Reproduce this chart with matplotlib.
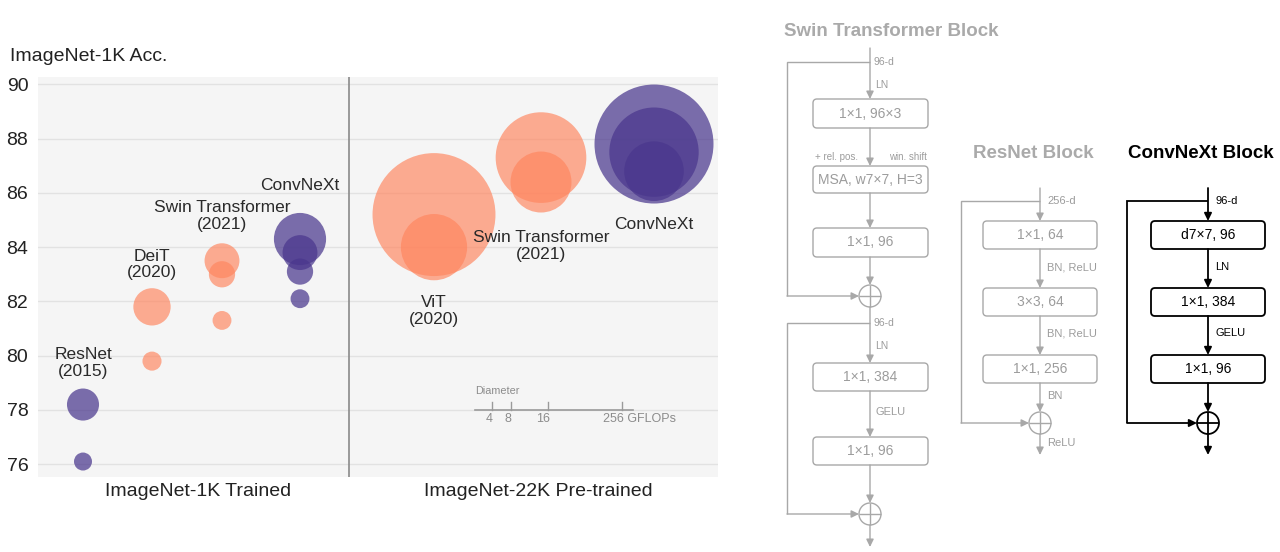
import matplotlib.pyplot as plt
from matplotlib.patches import FancyBboxPatch, Circle

plt.rcParams['font.family'] = ['Liberation Sans', 'DejaVu Sans']

# ImageNet-1K accuracy (%) and GFLOPs of each model variant
resnet_acc = [76.1, 78.2]
resnet_gflops = [4.1, 13.0]
deit_acc = [79.8, 81.8]
deit_gflops = [4.6, 17.6]
swin1k_acc = [81.3, 83.0, 83.5]
swin1k_gflops = [4.5, 8.7, 15.4]
convnext1k_acc = [82.1, 83.1, 83.8, 84.3]
convnext1k_gflops = [4.5, 8.7, 15.4, 34.4]
vit22k_acc = [84.0, 85.2]
vit22k_gflops = [55.5, 191.1]
swin22k_acc = [86.4, 87.3]
swin22k_gflops = [47.0, 103.9]
convnext22k_acc = [86.8, 87.5, 87.8]
convnext22k_gflops = [45.1, 101.0, 179.0]

# column position of each family on the x axis
column_x = [45, 114, 184, 262, 396, 503, 616]
divider_x = 311
yticks = [76, 78, 80, 82, 84, 86, 88, 90]

legend_ticks = ['4', '8', '16', '256']
legend_tick_x = [454, 473, 510, 584]

orange = (1.0, 0.52, 0.37)
purple = (0.29, 0.215, 0.553)
SIZE = 41  # points^2 per GFLOP -> bubble area ~ FLOPs

fig = plt.figure(figsize=(12.8, 5.52), dpi=100)
ax = fig.add_axes([38 / 1280, 75 / 552, 680 / 1280, 400 / 552])
ax.set_facecolor('#f5f5f5')
for s in ax.spines.values():
    s.set_visible(False)
ax.set_xlim(0, 680)
ax.set_ylim(75.53, 90.27)
ax.set_yticks(yticks)
ax.set_xticks([])
ax.tick_params(axis='y', length=0, pad=7, labelsize=14, labelcolor='#222222')
ax.grid(axis='y', color='#e2e2e2', lw=1)
ax.set_axisbelow(True)

groups = [
    (resnet_acc, resnet_gflops, purple, 0.72),
    (deit_acc, deit_gflops, orange, 0.67),
    (swin1k_acc, swin1k_gflops, orange, 0.67),
    (convnext1k_acc, convnext1k_gflops, purple, 0.72),
    (vit22k_acc, vit22k_gflops, orange, 0.67),
    (swin22k_acc, swin22k_gflops, orange, 0.67),
    (convnext22k_acc, convnext22k_gflops, purple, 0.72),
]
for xpos, (acc, gf, col, a) in zip(column_x, groups):
    ax.scatter([xpos] * len(acc), acc, s=[g * SIZE for g in gf],
               color=col, alpha=a, edgecolors='none', zorder=3)

ax.axvline(divider_x, color='#8a8a8a', lw=1.2, zorder=2)

labels = [
    ('ResNet\n(2015)', 0, 79.74),
    ('DeiT\n(2020)', 1, 83.36),
    ('Swin Transformer\n(2021)', 2, 85.15),
    ('ConvNeXt', 3, 86.29),
    ('ViT\n(2020)', 4, 81.66),
    ('Swin Transformer\n(2021)', 5, 84.05),
    ('ConvNeXt', 6, 84.85),
]
for txt, i, y in labels:
    ax.text(column_x[i], y, txt, ha='center', va='center', fontsize=12.5,
            color='#2a2a2a', linespacing=1.15, zorder=4)

# diameter legend
ax.plot([437, 595], [78.0, 78.0], color='#9a9a9a', lw=1.2, zorder=2)
for t, tx in zip(legend_ticks, legend_tick_x):
    ax.plot([tx, tx], [78.0, 78.3], color='#9a9a9a', lw=1.0, zorder=2)
ax.text(437, 78.7, 'Diameter', fontsize=7.8, color='#8c8c8c', ha='left', va='center')
ax.text(legend_tick_x[0] - 3, 77.66, '4', fontsize=9, color='#8c8c8c', ha='center', va='center')
ax.text(legend_tick_x[1] - 3, 77.66, '8', fontsize=9, color='#8c8c8c', ha='center', va='center')
ax.text(legend_tick_x[2] - 5, 77.66, '16', fontsize=9, color='#8c8c8c', ha='center', va='center')
ax.text(565, 77.66, '256 GFLOPs', fontsize=9, color='#8c8c8c', ha='left', va='center')

xt = ax.get_xaxis_transform()
ax.text(160, -0.035, 'ImageNet-1K Trained', transform=xt, ha='center', va='center',
        fontsize=14, color='#222222')
ax.text(500, -0.035, 'ImageNet-22K Pre-trained', transform=xt, ha='center', va='center',
        fontsize=14, color='#222222')
fig.text(10 / 1280, 1 - 56.7 / 552, 'ImageNet-1K Acc.', ha='left', va='center',
         fontsize=14, color='#222222')

# ---- block diagrams (pixel coordinates) ----
d = fig.add_axes([0, 0, 1, 1])
d.set_xlim(0, 1280)
d.set_ylim(552, 0)
d.axis('off')

GRAY = '#a8a8a8'
GTXT = '#9c9c9c'


def line(pts, c, lw):
    d.plot([p[0] for p in pts], [p[1] for p in pts], color=c, lw=lw,
           solid_capstyle='butt', solid_joinstyle='miter')


def arrow(x0, y0, x1, y1, c, lw):
    d.annotate('', xy=(x1, y1), xytext=(x0, y0),
               arrowprops=dict(arrowstyle='-|>,head_length=0.45,head_width=0.22',
                               color=c, lw=lw, shrinkA=0, shrinkB=0,
                               mutation_scale=10))


def box(x0, x1, y0, y1, txt, c, tc, lw):
    d.add_patch(FancyBboxPatch((x0, y0), x1 - x0, y1 - y0,
                               boxstyle='round,pad=0,rounding_size=4',
                               fc='white', ec=c, lw=lw))
    d.text((x0 + x1) / 2, (y0 + y1) / 2, txt, ha='center', va='center',
           fontsize=10, color=tc)


def plus(cx, cy, c, lw, r=11):
    d.add_patch(Circle((cx, cy), r, fc='white', ec=c, lw=lw))
    line([(cx - r, cy), (cx + r, cy)], c, lw)
    line([(cx, cy - r), (cx, cy + r)], c, lw)


def side(x, y, txt, c, fs=8, ha='left'):
    d.text(x, y, txt, ha=ha, va='center', fontsize=fs, color=c)


# Swin Transformer block
lw = 1.0
cx, lx, bx0, bx1 = 870, 787, 813, 928
d.text(891, 32, 'Swin Transformer Block', ha='center', va='center',
       fontsize=13.5, fontweight='bold', color='#aaaaaa')
arrow(cx, 48, cx, 99, GRAY, lw)
line([(cx, 62), (lx, 62), (lx, 296)], GRAY, lw)
arrow(lx, 296, cx - 11, 296, GRAY, lw)
side(874, 62, '96-d', GTXT, 7.5)
side(875, 85, 'LN', GTXT, 7.5)
box(bx0, bx1, 99, 128, '1×1, 96×3', GRAY, GTXT, lw)
arrow(cx, 128, cx, 166, GRAY, lw)
side(815, 157, '+ rel. pos.', GTXT, 7)
side(927, 157, 'win. shift', GTXT, 7, ha='right')
box(bx0, bx1, 166, 193, 'MSA, w7×7, H=3', GRAY, GTXT, lw)
arrow(cx, 193, cx, 228, GRAY, lw)
box(bx0, bx1, 228, 257, '1×1, 96', GRAY, GTXT, lw)
arrow(cx, 257, cx, 285, GRAY, lw)
plus(cx, 296, GRAY, lw)
arrow(cx, 307, cx, 363, GRAY, lw)
line([(cx, 323), (lx, 323), (lx, 514)], GRAY, lw)
arrow(lx, 514, cx - 11, 514, GRAY, lw)
side(874, 323, '96-d', GTXT, 7.5)
side(875, 346, 'LN', GTXT, 7.5)
box(bx0, bx1, 363, 391, '1×1, 384', GRAY, GTXT, lw)
side(875, 412, 'GELU', GTXT, 8)
arrow(cx, 391, cx, 437, GRAY, lw)
box(bx0, bx1, 437, 465, '1×1, 96', GRAY, GTXT, lw)
arrow(cx, 465, cx, 503, GRAY, lw)
plus(cx, 514, GRAY, lw)
arrow(cx, 525, cx, 547, GRAY, lw)


def bottleneck(cx, lx, bw, title, tcol, c, tc, lw, texts, sides):
    d.text(cx - 7, 154, title, ha='center', va='center', fontsize=13.5,
           fontweight='bold', color=tcol)
    bx0, bx1 = cx - bw / 2, cx + bw / 2
    arrow(cx, 188, cx, 221, c, lw)
    line([(cx, 201), (lx, 201), (lx, 423)], c, lw)
    arrow(lx, 423, cx - 11, 423, c, lw)
    box(bx0, bx1, 221, 249, texts[0], c, tc, lw)
    arrow(cx, 249, cx, 288, c, lw)
    box(bx0, bx1, 288, 316, texts[1], c, tc, lw)
    arrow(cx, 316, cx, 355, c, lw)
    box(bx0, bx1, 355, 383, texts[2], c, tc, lw)
    arrow(cx, 383, cx, 412, c, lw)
    plus(cx, 423, c, lw)
    arrow(cx, 434, cx, 455, c, lw)
    for y, s in zip([201, 267, 333, 396, 443], sides):
        if s:
            side(cx + 7, y, s, tc, 8)


bottleneck(1040, 961, 114, 'ResNet Block', '#aaaaaa', GRAY, GTXT, 1.0,
           ['1×1, 64', '3×3, 64', '1×1, 256'],
           ['256-d', 'BN, ReLU', 'BN, ReLU', 'BN', 'ReLU'])
bottleneck(1208, 1127, 114, 'ConvNeXt Block', 'black', 'black', 'black', 1.3,
           ['d7×7, 96', '1×1, 384', '1×1, 96'],
           ['96-d', 'LN', 'GELU', '', ''])

fig.savefig('out.png', dpi=100)
